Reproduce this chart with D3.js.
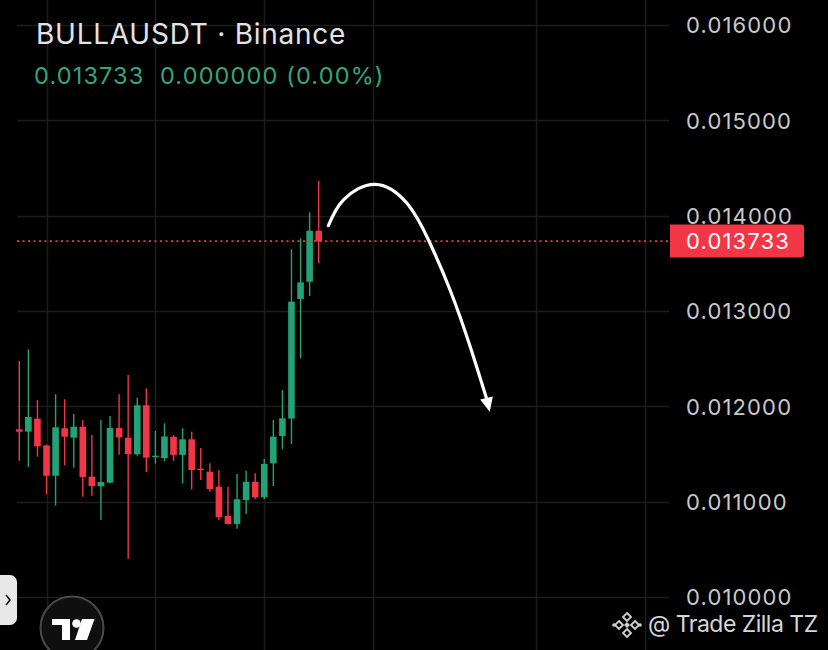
<!DOCTYPE html>
<html>
<head>
<meta charset="utf-8">
<script src="https://cdn.jsdelivr.net/npm/d3@7"></script>
<style>
  html, body { margin: 0; padding: 0; background: #000; }
  svg { display: block; }
  text { font-family: Inter, "Noto Sans", sans-serif; }
</style>
</head>
<body>
<div id="chart"></div>
<script>
// candles (price in USDT)
var opens  = [0.011759, 0.011734, 0.011870, 0.011590, 0.011272, 0.011770, 0.011671, 0.011786, 0.011262, 0.011161,
              0.011199, 0.011773, 0.011671, 0.011497, 0.012011, 0.011469, 0.011458, 0.011681, 0.011490, 0.011654,
              0.011346, 0.011314, 0.011157, 0.010850, 0.010766, 0.011017, 0.011209, 0.011046, 0.011402, 0.011689,
              0.011872, 0.013126, 0.013307, 0.013842];
var highs  = [0.012475, 0.012598, 0.012066, 0.011600, 0.012126, 0.012074, 0.011920, 0.011857, 0.011699, 0.011857,
              0.011899, 0.012126, 0.012329, 0.012091, 0.012189, 0.011741, 0.011822, 0.011699, 0.011770, 0.011734,
              0.011563, 0.011402, 0.011329, 0.011157, 0.011290, 0.011325, 0.011298, 0.011448, 0.011857, 0.012171,
              0.013647, 0.013763, 0.014035, 0.014364];
var lows   = [0.011430, 0.011364, 0.011472, 0.011077, 0.010958, 0.011381, 0.011356, 0.011052, 0.011063, 0.010808,
              0.011193, 0.011493, 0.010402, 0.011482, 0.011311, 0.011398, 0.011424, 0.011427, 0.011189, 0.011130,
              0.011227, 0.011104, 0.010804, 0.010760, 0.010716, 0.010871, 0.011028, 0.011025, 0.011164, 0.011552,
              0.011605, 0.012504, 0.013157, 0.013500];
var closes = [0.011734, 0.011888, 0.011581, 0.011272, 0.011780, 0.011681, 0.011786, 0.011259, 0.011164, 0.011206,
              0.011773, 0.011675, 0.011500, 0.012011, 0.011461, 0.011482, 0.011684, 0.011490, 0.011654, 0.011332,
              0.011332, 0.011133, 0.010836, 0.010766, 0.011025, 0.011209, 0.011046, 0.011395, 0.011681, 0.011874,
              0.013098, 0.013301, 0.013842, 0.013733];

var priceTicks = [0.010, 0.011, 0.012, 0.013, 0.014, 0.015, 0.016];
var timeGrid = [3, 15, 27, 39, 57, 69];     // bar index of the vertical grid lines
var lastPrice = 0.013733;

// hand drawn arrow, in bar index / price
var arrowIdx   = [34.07, 35.73, 39.22, 42.71, 45.10, 47.48, 49.70, 51.53];
var arrowPrice = [0.013895, 0.014165, 0.014329, 0.014132, 0.013745, 0.013220, 0.012626, 0.012073];
var arrowTip   = [51.85, 0.011944];

var svgWidth = 828;
var svgHeight = 650;
var upColor = "#22a276";
var downColor = "#f23645";

var svg = d3.select("#chart")
    .append("svg")
    .attr("width", svgWidth)
    .attr("height", svgHeight);

svg.append("rect")
    .attr("width", svgWidth)
    .attr("height", svgHeight)
    .attr("fill", "#000");

var plotLeft = 17, plotRight = 669;

var x = d3.scaleLinear()
    .domain([0, 33])
    .range([19.3, 318.7]);

var y = d3.scaleLinear()
    .domain([0.010, 0.016])
    .range([597, 25]);

// grid
svg.append("g").selectAll("line")
    .data(priceTicks)
    .enter()
    .append("line")
    .attr("x1", plotLeft)
    .attr("x2", plotRight)
    .attr("y1", d => Math.round(y(d)) + 0.5)
    .attr("y2", d => Math.round(y(d)) + 0.5)
    .attr("stroke", "#1c1c1c")
    .attr("stroke-width", 1.5);

svg.append("g").selectAll("line")
    .data(timeGrid)
    .enter()
    .append("line")
    .attr("x1", d => Math.round(x(d)) + 0.5)
    .attr("x2", d => Math.round(x(d)) + 0.5)
    .attr("y1", 0)
    .attr("y2", svgHeight)
    .attr("stroke", "#1c1c1c")
    .attr("stroke-width", 1.5);

// candles
var bars = d3.range(opens.length).map(function(i) {
    return { i: i, o: opens[i], h: highs[i], l: lows[i], c: closes[i] };
});

var candles = svg.append("g").selectAll("g")
    .data(bars)
    .enter()
    .append("g");

candles.append("line")
    .attr("x1", d => x(d.i))
    .attr("x2", d => x(d.i))
    .attr("y1", d => y(d.h))
    .attr("y2", d => y(d.l))
    .attr("stroke", d => d.c >= d.o ? upColor : downColor)
    .attr("stroke-width", 1.4);

candles.append("rect")
    .attr("x", d => x(d.i) - 3.3)
    .attr("width", 6.6)
    .attr("y", d => y(Math.max(d.o, d.c)))
    .attr("height", d => Math.max(1.4, y(Math.min(d.o, d.c)) - y(Math.max(d.o, d.c))))
    .attr("fill", d => d.c >= d.o ? upColor : downColor);

// last price line
svg.append("line")
    .attr("x1", plotLeft)
    .attr("x2", plotRight)
    .attr("y1", y(lastPrice))
    .attr("y2", y(lastPrice))
    .attr("stroke", downColor)
    .attr("stroke-width", 1.6)
    .attr("stroke-dasharray", "2 3.5");

// price axis
var rightAxis = d3.axisRight(y)
    .tickValues(priceTicks)
    .tickFormat(d3.format(".6f"))
    .tickSize(0)
    .tickPadding(0);

var axisG = svg.append("g")
    .attr("transform", "translate(686, 0)")
    .call(rightAxis);
axisG.select(".domain").remove();
axisG.selectAll("text")
    .attr("fill", "#c9c9c9")
    .style("font-size", "22px")
    .style("letter-spacing", "1.15px")
    .attr("dy", "0.35em");

// last price tag
var tagY = y(lastPrice);
svg.append("path")
    .attr("d", `M670,${tagY - 16.5} H801 a3,3 0 0 1 3,3 V${tagY + 13.5} a3,3 0 0 1 -3,3 H670 Z`)
    .attr("fill", downColor);
svg.append("text")
    .attr("x", 686)
    .attr("y", tagY)
    .attr("dy", "0.35em")
    .attr("fill", "#fff")
    .style("font-size", "22px")
    .style("letter-spacing", "1.15px")
    .text(d3.format(".6f")(lastPrice));

// arrow
var arrowPts = arrowIdx.map((d, k) => [x(d), y(arrowPrice[k])]);
var arrowLine = d3.line().curve(d3.curveNatural);
svg.append("path")
    .attr("d", arrowLine(arrowPts))
    .attr("fill", "none")
    .attr("stroke", "#fff")
    .attr("stroke-width", 3.2)
    .attr("stroke-linecap", "round");

var tip = [x(arrowTip[0]), y(arrowTip[1])];
var last = arrowPts[arrowPts.length - 1];
var ang = Math.atan2(tip[1] - last[1], tip[0] - last[0]);
var headLen = 14, headW = 6.5;
var bx = tip[0] - headLen * Math.cos(ang), by = tip[1] - headLen * Math.sin(ang);
svg.append("path")
    .attr("d", `M${tip[0]},${tip[1]} L${bx + headW * Math.sin(ang)},${by - headW * Math.cos(ang)} L${bx - headW * Math.sin(ang)},${by + headW * Math.cos(ang)} Z`)
    .attr("fill", "#fff");

// header
svg.append("text")
    .attr("x", 36)
    .attr("y", 43.5)
    .attr("fill", "#e3e3e3")
    .style("font-size", "28px")
    .style("letter-spacing", "0.75px")
    .text("BULLAUSDT · Binance");

svg.append("text")
    .attr("x", 34)
    .attr("y", 83.5)
    .attr("fill", "#35a57b")
    .style("font-size", "23.5px")
    .style("letter-spacing", "1.15px")
    .attr("xml:space", "preserve")
    .text("0.013733  0.000000 (0.00%)");

// side button
svg.append("rect")
    .attr("x", -8)
    .attr("y", 575)
    .attr("width", 25)
    .attr("height", 50)
    .attr("rx", 7)
    .attr("fill", "#e8e8e8");
svg.append("path")
    .attr("d", "M6,595 L10,600 L6,605")
    .attr("fill", "none")
    .attr("stroke", "#111")
    .attr("stroke-width", 1.6);

// TradingView badge
var logo = svg.append("g").attr("transform", "translate(72, 628)");
logo.append("circle")
    .attr("r", 31.5)
    .attr("fill", "#0f0f0f")
    .attr("stroke", "#4a4a4a")
    .attr("stroke-width", 2);
logo.append("path")
    .attr("d", "M-20,-9 H-2 V12 H-10 V-3 H-20 Z")
    .attr("fill", "#fff");
logo.append("circle")
    .attr("cx", 4.5)
    .attr("cy", -4.5)
    .attr("r", 4.3)
    .attr("fill", "#fff");
logo.append("path")
    .attr("d", "M10,-9 H22.5 L15,12 H3 Z")
    .attr("fill", "#fff");

// watermark
var wm = svg.append("g").attr("transform", "translate(627, 625)");
[[0, -8], [0, 8], [-8, 0], [8, 0]].forEach(function(p) {
    wm.append("path")
        .attr("d", `M${p[0]},${p[1] - 4} L${p[0] + 4},${p[1]} L${p[0]},${p[1] + 4} L${p[0] - 4},${p[1]} Z`)
        .attr("fill", "none")
        .attr("stroke", "#d0d0d0")
        .attr("stroke-width", 1.8);
});
wm.append("path")
    .attr("d", "M0,-3 L3,0 L0,3 L-3,0 Z")
    .attr("fill", "#d0d0d0");
wm.append("circle").attr("cx", -13).attr("cy", 0).attr("r", 1.8).attr("fill", "#d0d0d0");
wm.append("circle").attr("cx", 13).attr("cy", 0).attr("r", 1.8).attr("fill", "#d0d0d0");

svg.append("text")
    .attr("x", 648)
    .attr("y", 632)
    .attr("fill", "#d6d6d6")
    .style("font-size", "23px")
    .style("letter-spacing", "-0.5px")
    .text("@ Trade Zilla TZ");
</script>
</body>
</html>
